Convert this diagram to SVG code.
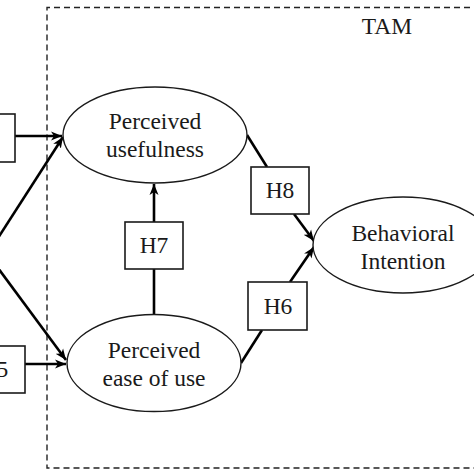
<svg xmlns="http://www.w3.org/2000/svg" width="474" height="474" viewBox="0 0 474 474">
<style>
.t{font-family:"Liberation Serif","Times New Roman",serif;font-size:23.5px;fill:#1a1a1a;text-anchor:middle}
.e{fill:#fff;stroke:#1a1a1a;stroke-width:1.4}
.b{fill:#fff;stroke:#1a1a1a;stroke-width:1.6}
.c{stroke:#000;stroke-width:2.6;fill:none}
</style>
<defs>
<marker id="ah" markerUnits="userSpaceOnUse" markerWidth="12" markerHeight="10" refX="11" refY="5" orient="auto">
<path d="M0,0.5 L11,5 L0,9.5 L3,5 Z" fill="#000"/>
</marker>
</defs>
<rect width="474" height="474" fill="#fff"/>
<path id="tam-box" d="M480,7.5 H47 V468 H480" fill="none" stroke="#222" stroke-width="1.4" stroke-dasharray="6,4"/>
<text class="t" x="387" y="34">TAM</text>
<g id="connectors">
<line class="c" x1="15" y1="136" x2="62" y2="136" marker-end="url(#ah)"/>
<line class="c" x1="-2" y1="238" x2="63" y2="137" marker-end="url(#ah)"/>
<line class="c" x1="-2" y1="268" x2="66" y2="360" marker-end="url(#ah)"/>
<line class="c" x1="25" y1="364" x2="66" y2="364" marker-end="url(#ah)"/>
<line class="c" x1="154" y1="315" x2="154" y2="269"/>
<line class="c" x1="154" y1="222" x2="154" y2="184" marker-end="url(#ah)"/>
<line class="c" x1="247" y1="135" x2="267" y2="167"/>
<line class="c" x1="294" y1="214" x2="314" y2="241" marker-end="url(#ah)"/>
<line class="c" x1="241" y1="363" x2="262" y2="330"/>
<line class="c" x1="290" y1="282" x2="314" y2="247" marker-end="url(#ah)"/>
</g>
<g id="box-top-left"><rect class="b" x="-40" y="114" width="55" height="48"/></g>
<g id="box-h5"><rect class="b" x="-33" y="346" width="58" height="47"/><text class="t" x="-6" y="377">H5</text></g>
<g id="pu"><ellipse class="e" cx="155" cy="135" rx="92" ry="48"/><text class="t" x="155" y="129">Perceived</text><text class="t" x="155" y="157">usefulness</text></g>
<g id="peou"><ellipse class="e" cx="154" cy="363" rx="87" ry="48.5"/><text class="t" x="154" y="358">Perceived</text><text class="t" x="154" y="386">ease of use</text></g>
<g id="bi"><ellipse class="e" cx="403" cy="245" rx="90" ry="48"/><text class="t" x="403" y="241">Behavioral</text><text class="t" x="403" y="269">Intention</text></g>
<g id="h7"><rect class="b" x="125" y="222" width="58" height="47"/><text class="t" x="154" y="253">H7</text></g>
<g id="h8"><rect class="b" x="251" y="167" width="58" height="47"/><text class="t" x="280" y="198">H8</text></g>
<g id="h6"><rect class="b" x="248" y="282" width="59" height="48"/><text class="t" x="278" y="314">H6</text></g>
</svg>
